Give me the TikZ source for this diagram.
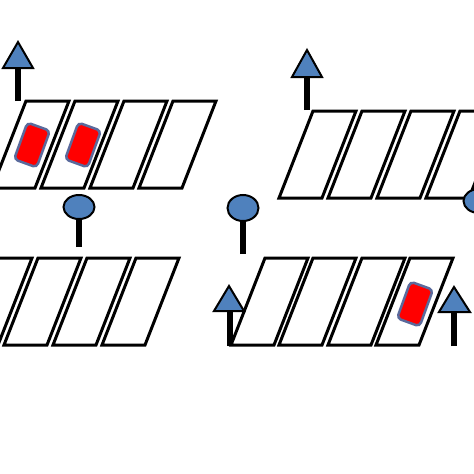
\documentclass[tikz,border=0pt]{standalone}
\definecolor{pinblue}{HTML}{4F81BD}
\definecolor{carred}{HTML}{FF0000}
\definecolor{caredge}{HTML}{5A6A9C}
\tikzset{
  cellbox/.style={draw=black,fill=white,line width=3pt,line join=miter},
  carbox/.style={draw=caredge,fill=carred,line width=2.5pt,rounded corners=4pt},
  pinhead/.style={draw=black,fill=pinblue,line width=2pt},
  shaft/.style={draw=black,line width=6pt},
}
\newcommand{\slot}[2]{% bottom-left x, bottom y
  \path[cellbox] (#1,#2) -- ++(43,0) -- ++(34,-87) -- ++(-43,0) -- cycle;}
\begin{document}
\begin{tikzpicture}[x=1pt,y=-1pt]
\useasboundingbox (0,0) rectangle (474,474);
\begin{scope}
\clip (0,0) rectangle (474,474);
% top-left group
\foreach \bx in {-8,41,90,139} {\slot{\bx}{188}}
% bottom-left group
\foreach \bx in {-45,4,53,102} {\slot{\bx}{345}}
% top-right group
\foreach \bx in {279,328,377,426} {\slot{\bx}{198}}
% bottom-right group
\foreach \bx in {231,279,328,376} {\slot{\bx}{345}}
% cars
\node[carbox,minimum width=24pt,minimum height=39pt,rotate=-20,inner sep=0pt] (car1) at (32,145) {};
\node[carbox,minimum width=24pt,minimum height=39pt,rotate=-20,inner sep=0pt] (car2) at (83,145) {};
\node[carbox,minimum width=24pt,minimum height=39pt,rotate=-20,inner sep=0pt] (car3) at (415,304) {};
% up arrows
\coordinate (a1b) at (18,101); \coordinate (a1t) at (18,68);
\draw[shaft] (a1b) -- (a1t);
\path[pinhead] (3,68) -- (33,68) -- (18,42) -- cycle;
\coordinate (a2b) at (307,110); \coordinate (a2t) at (307,77);
\draw[shaft] (a2b) -- (a2t);
\path[pinhead] (292,77) -- (322,77) -- (307,50) -- cycle;
\coordinate (a3b) at (230,346); \coordinate (a3t) at (230,311);
\draw[shaft] (a3b) -- (a3t);
\path[pinhead] (214,311) -- (244,311) -- (229,286) -- cycle;
\coordinate (a4b) at (454,346); \coordinate (a4t) at (454,312);
\draw[shaft] (a4b) -- (a4t);
\path[pinhead] (439,312) -- (470,312) -- (454,287) -- cycle;
% lollipops
\coordinate (l1b) at (79,247); \coordinate (l1t) at (79,215);
\draw[shaft] (l1b) -- (l1t);
\path[pinhead] (79,207) ellipse [x radius=15.5pt, y radius=12pt];
\coordinate (l2b) at (243,254); \coordinate (l2t) at (243,216);
\draw[shaft] (l2b) -- (l2t);
\path[pinhead] (243,208) ellipse [x radius=15.5pt, y radius=13pt];
\path[pinhead] (479,201) ellipse [x radius=15.5pt, y radius=12pt];
\end{scope}
\end{tikzpicture}
\end{document}
